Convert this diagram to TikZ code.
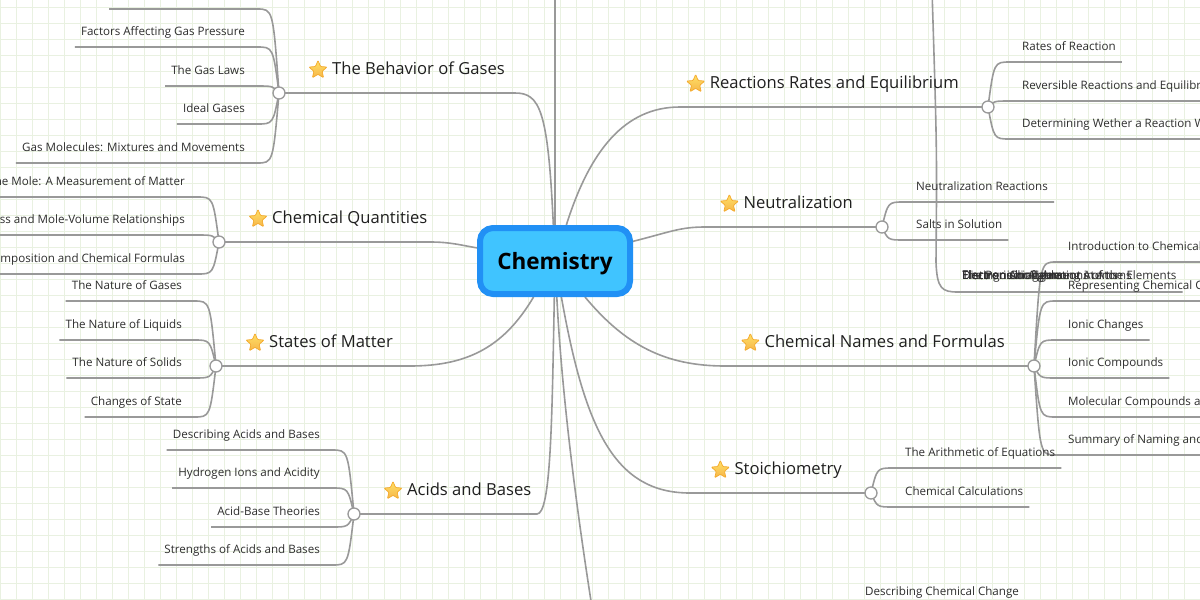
\documentclass[tikz,border=0pt]{standalone}
\usepackage{fontspec}
\setmainfont{Open Sans}
\usetikzlibrary{calc,shapes.geometric}
\definecolor{gridc}{HTML}{E9F1E1}
\definecolor{linec}{HTML}{999999}
\definecolor{txt}{HTML}{2E2E2E}
\definecolor{ctrfill}{HTML}{40C4FF}
\definecolor{ctrdraw}{HTML}{2190F5}
\definecolor{staryel}{HTML}{FFE066}
\definecolor{starorg}{HTML}{F4A92A}
\pgfdeclarelayer{gridlayer}
\pgfdeclarelayer{bg}
\pgfsetlayers{gridlayer,bg,main}
\tikzset{
  conn/.style={draw=linec, line width=1.6pt},
  kid/.style={font=\fontsize{11.6}{14}\selectfont, text=txt, inner sep=0pt},
  topic/.style={font=\fontsize{16.6}{20}\selectfont, text=black!88, inner sep=0pt},
  junc/.style={shape=circle, draw=linec, line width=1.3pt, fill=white, minimum size=12pt, inner sep=0pt},
  staricon/.style={shape=star, star points=5, star point ratio=2.2, minimum size=19pt, inner sep=0pt,
     draw=starorg, line width=0.7pt, top color=staryel, bottom color=starorg!85, rounded corners=0.9pt},
}
\newcommand\lkid[5]{%
  \node[kid, anchor=mid east] (#1) at (#3-34,#4-14.5) {#5};
  \begin{pgfonlayer}{bg}
  \draw[conn] (#2) .. controls (#3-6,#4) .. (#3-22,#4) -- ($(#1.mid west)+(-6,14.5)$);
  \end{pgfonlayer}}
\newcommand\rkid[5]{%
  \node[kid, anchor=mid west] (#1) at (#3+34,#4-14.5) {#5};
  \begin{pgfonlayer}{bg}
  \draw[conn] (#2) .. controls (#3+6,#4) .. (#3+22,#4) -- ($(#1.mid east)+(6,14.5)$);
  \end{pgfonlayer}}
\begin{document}
\begin{tikzpicture}[x=1pt,y=-1pt]
\useasboundingbox (0,0) rectangle (1200,600);
\clip (0,0) rectangle (1200,600);
\begin{pgfonlayer}{gridlayer}
  \fill[white] (0,0) rectangle (1200,600);
  \foreach \i in {0,...,75} \draw[gridc, line width=0.6pt] (\i*16+0.5,0) -- (\i*16+0.5,600);
  \foreach \j in {0,...,37} \draw[gridc, line width=0.6pt] (0,\j*16+7) -- (1200,\j*16+7);
\end{pgfonlayer}

% central topic
\node[draw=ctrdraw, fill=ctrfill, line width=6pt, rounded corners=13pt, minimum width=150pt,
      minimum height=66pt, text depth=0pt, font=\fontsize{22.5}{27}\selectfont\bfseries, text=black] (ctr) at (555,261) {Chemistry};

% junctions
\coordinate (jg) at (279,93);
\coordinate (jq) at (219,242);
\coordinate (js) at (216,366);
\coordinate (ja) at (354,514);
\coordinate (jr) at (988,107);
\coordinate (jn) at (882,227);
\coordinate (jc) at (1034,366);
\coordinate (jst) at (871,493);
\coordinate (topv) at (555,-10);
\coordinate (botv) at (594,620);
\coordinate (topr) at (932,-10);
\coordinate (gx0) at (109,9);

% main branches
\begin{pgfonlayer}{bg}
\draw[conn] (ctr) .. controls (548,110) and (540,93) .. (515,93) -- (jg);
\draw[conn] (ctr) .. controls (460,245) and (450,242) .. (430,242) -- (jq);
\draw[conn] (ctr) .. controls (505,345) and (470,366) .. (410,366) -- (js);
\draw[conn] (ctr) .. controls (552,420) and (551,514) .. (537,514) -- (ja);
\draw[conn] (ctr) -- (topv);
\draw[conn] (ctr) .. controls (562,400) and (578,520) .. (botv);
\draw[conn] (ctr) .. controls (590,150) and (625,107) .. (680,107) -- (jr);
\draw[conn] (ctr) .. controls (670,232) and (680,227) .. (705,227) -- (jn);
\draw[conn] (ctr) .. controls (625,345) and (665,366) .. (725,366) -- (jc);
\draw[conn] (ctr) .. controls (585,430) and (615,493) .. (690,493) -- (jst);
\draw[conn] (jg) .. controls (273,9) .. (257,9) -- (gx0);
\end{pgfonlayer}

% topic labels
\node[topic, anchor=mid west] (tg) at (332,71.5) {The Behavior of Gases};
\node[topic, anchor=mid west] (tq) at (272,220.5) {Chemical Quantities};
\node[topic, anchor=mid west] (ts) at (269,344.5) {States of Matter};
\node[topic, anchor=mid west] (ta) at (407,492.5) {Acids and Bases};
\node[topic, anchor=mid east] (tr) at (959,85.5) {Reactions Rates and Equilibrium};
\node[topic, anchor=mid east] (tn) at (853,205.5) {Neutralization};
\node[topic, anchor=mid east] (tc) at (1005,344.5) {Chemical Names and Formulas};
\node[topic, anchor=mid east] (tst) at (842,471.5) {Stoichiometry};
\foreach \t in {tg,tq,ts,ta,tr,tn,tc,tst}
  \node[staricon] (star-\t) at ($(\t.mid west)+(-14,-1.5)$) {};

% children: The Behavior of Gases
\lkid{g1}{jg}{279}{47}{Factors Affecting Gas Pressure}
\lkid{g2}{jg}{279}{86}{The Gas Laws}
\lkid{g3}{jg}{279}{124}{Ideal Gases}
\lkid{g4}{jg}{279}{163}{Gas Molecules: Mixtures and Movements}
% Chemical Quantities
\lkid{q1}{jq}{219}{197}{The Mole: A Measurement of Matter}
\lkid{q2}{jq}{219}{235}{Mole-Mass and Mole-Volume Relationships}
\lkid{q3}{jq}{219}{274}{Percent Composition and Chemical Formulas}
% States of Matter
\lkid{s1}{js}{216}{301}{The Nature of Gases}
\lkid{s2}{js}{216}{340}{The Nature of Liquids}
\lkid{s3}{js}{216}{378}{The Nature of Solids}
\lkid{s4}{js}{216}{417}{Changes of State}
% Acids and Bases
\lkid{a1}{ja}{354}{450}{Describing Acids and Bases}
\lkid{a2}{ja}{354}{488}{Hydrogen Ions and Acidity}
\lkid{a3}{ja}{354}{527}{Acid-Base Theories}
\lkid{a4}{ja}{354}{565}{Strengths of Acids and Bases}
% Reactions Rates and Equilibrium
\rkid{r1}{jr}{988}{62}{Rates of Reaction}
\rkid{r2}{jr}{988}{101}{Reversible Reactions and Equilibrium}
\rkid{r3}{jr}{988}{139}{Determining Wether a Reaction Will Occur}
% Neutralization
\rkid{n1}{jn}{882}{202}{Neutralization Reactions}
\rkid{n2}{jn}{882}{240}{Salts in Solution}
% Chemical Names and Formulas
\rkid{c1}{jc}{1034}{262}{Introduction to Chemical Bonding}
\rkid{c2}{jc}{1034}{301}{Representing Chemical Compounds}
\rkid{c3}{jc}{1034}{340}{Ionic Changes}
\rkid{c4}{jc}{1034}{378}{Ionic Compounds}
\rkid{c5}{jc}{1034}{417}{Molecular Compounds and Acids}
\rkid{c6}{jc}{1034}{455}{Summary of Naming and Formula Writing}
% Stoichiometry
\rkid{t1}{jst}{871}{468}{The Arithmetic of Equations}
\rkid{t2}{jst}{871}{507}{Chemical Calculations}

% overlapping children of a branch above the view
\node[kid, anchor=mid west] (o1) at (962,277) {Distinguishing Among Atoms};
\node[kid, anchor=mid west] (o2) at (962,277) {The Periodic Table};
\node[kid, anchor=mid west] (o3) at (962,277) {Electrons in Atoms};
\node[kid, anchor=mid west] (o5) at (962,277) {Electron Arrangement in Atoms};
\node[kid, anchor=mid west] (o4) at (962,277) {Electron Configurations of the Elements};
\begin{pgfonlayer}{bg}
\draw[conn] (topr) .. controls (937,150) .. (936,262) .. controls (937,289) and (942,292) .. (958,292) -- ($(o4.mid east)+(6,15)$);
\end{pgfonlayer}

% child of a branch below the view
\node[kid, anchor=mid west] (d1) at (865,593) {Describing Chemical Change};

% junction circles
\foreach \j in {jg,jq,js,ja,jr,jn,jc,jst}
  \node[junc] (c-\j) at (\j) {};
\end{tikzpicture}
\end{document}
